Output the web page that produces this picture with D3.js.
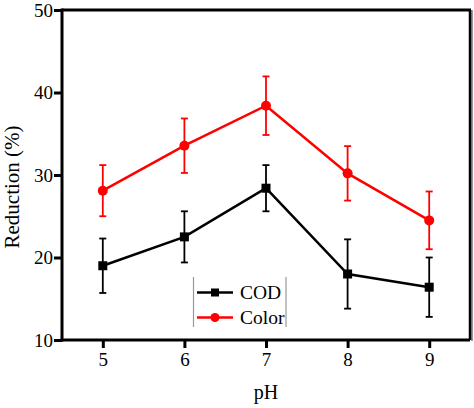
<!DOCTYPE html>
<html>
<head>
<meta charset="utf-8">
<script src="https://cdn.jsdelivr.net/npm/d3@7.9.0/dist/d3.min.js"></script>
<style>
  body { margin: 0; background: #fff; }
  text { font-family: "Liberation Serif", "Times New Roman", serif; }
</style>
</head>
<body>
<svg id="chart" width="474" height="408"></svg>
<script>
const phValues = [5, 6, 7, 8, 9];
const codMean = [19.0, 22.5, 28.4, 18.0, 16.4];
const codErr = [3.3, 3.1, 2.8, 4.2, 3.6];
const colorMean = [28.1, 33.55, 38.4, 30.2, 24.5];
const colorErr = [3.1, 3.3, 3.55, 3.3, 3.5];
const yTicks = [10, 20, 30, 40, 50];

const series = [
  { name: 'COD', mean: codMean, err: codErr, color: '#000000', shape: 'square' },
  { name: 'Color', mean: colorMean, err: colorErr, color: '#ff0000', shape: 'circle' }
];

const svg = d3.select('#chart');
const plotLeft = 62, plotRight = 470, plotTop = 10, plotBottom = 340;

const x = d3.scaleLinear().domain([4.5, 9.5]).range([plotLeft, plotRight]);
const y = d3.scaleLinear().domain([10, 50]).range([plotBottom, plotTop]);

// frame (top and right)
svg.append('line').attr('x1', plotLeft).attr('x2', plotRight + 1).attr('y1', plotTop).attr('y2', plotTop)
  .attr('stroke', '#000').attr('stroke-width', 3);
svg.append('line').attr('x1', plotRight + 2).attr('x2', plotRight + 2).attr('y1', plotTop).attr('y2', plotBottom + 1)
  .attr('stroke', '#999').attr('stroke-width', 2);
svg.append('line').attr('x1', plotRight).attr('x2', plotRight).attr('y1', plotTop).attr('y2', plotBottom)
  .attr('stroke', '#000').attr('stroke-width', 2.5);

// axes
const xAxis = svg.append('g').attr('transform', `translate(0,${plotBottom})`)
  .call(d3.axisBottom(x).tickValues(phValues).tickFormat(d3.format('d'))
    .tickSize(8).tickSizeOuter(0).tickPadding(5));
const yAxis = svg.append('g').attr('transform', `translate(${plotLeft},0)`)
  .call(d3.axisLeft(y).tickValues(yTicks).tickFormat(d3.format('d'))
    .tickSize(8).tickSizeOuter(0).tickPadding(1));

[xAxis, yAxis].forEach(g => {
  g.select('.domain').attr('stroke', '#000').attr('stroke-width', 3);
  g.selectAll('.tick line').attr('stroke', '#000').attr('stroke-width', 3);
  g.selectAll('.tick text').attr('font-size', 19).attr('fill', '#000');
});
yAxis.select('.domain').attr('d', `M0,${plotBottom + 1.5}V${plotTop - 1.5}`);
xAxis.select('.domain').attr('d', `M${plotLeft - 1.5},0H${plotRight}`);

// axis titles
svg.append('text').attr('x', 266).attr('y', 399).attr('text-anchor', 'middle')
  .attr('font-size', 20).text('pH');
svg.append('text').attr('transform', 'translate(19,187) rotate(-90)')
  .attr('text-anchor', 'middle').attr('font-size', 21).text('Reduction (%)');

// series
const line = d3.line();
series.forEach(s => {
  const pts = phValues.map((p, i) => [x(p), y(s.mean[i])]);
  const g = svg.append('g');
  g.append('path').attr('d', line(pts)).attr('fill', 'none')
    .attr('stroke', s.color).attr('stroke-width', 2.5);

  phValues.forEach((p, i) => {
    const cx = x(p);
    const y1 = y(s.mean[i] + s.err[i]);
    const y0 = y(s.mean[i] - s.err[i]);
    g.append('line').attr('x1', cx).attr('x2', cx).attr('y1', y1).attr('y2', y0)
      .attr('stroke', s.color).attr('stroke-width', 1.8);
    [y1, y0].forEach(cy => {
      g.append('line').attr('x1', cx - 3.5).attr('x2', cx + 3.5).attr('y1', cy).attr('y2', cy)
        .attr('stroke', s.color).attr('stroke-width', 1.8);
    });
    if (s.shape === 'square') {
      g.append('rect').attr('x', cx - 4.5).attr('y', y(s.mean[i]) - 4.5)
        .attr('width', 9).attr('height', 9).attr('fill', s.color);
    } else {
      g.append('circle').attr('cx', cx).attr('cy', y(s.mean[i])).attr('r', 5)
        .attr('fill', s.color);
    }
  });
});

// legend
const legend = svg.append('g');
legend.append('line').attr('x1', 193.5).attr('x2', 193.5).attr('y1', 277).attr('y2', 327)
  .attr('stroke', '#999').attr('stroke-width', 1.2);
legend.append('line').attr('x1', 286).attr('x2', 286).attr('y1', 277).attr('y2', 327)
  .attr('stroke', '#999').attr('stroke-width', 1.2);
series.forEach((s, i) => {
  const ly = 292.5 + i * 25;
  legend.append('line').attr('x1', 197).attr('x2', 233).attr('y1', ly).attr('y2', ly)
    .attr('stroke', s.color).attr('stroke-width', 2.5);
  if (s.shape === 'square') {
    legend.append('rect').attr('x', 215 - 4).attr('y', ly - 4).attr('width', 8).attr('height', 8)
      .attr('fill', s.color);
  } else {
    legend.append('circle').attr('cx', 215).attr('cy', ly).attr('r', 4.5).attr('fill', s.color);
  }
  legend.append('text').attr('x', 240).attr('y', ly + 6.5).attr('font-size', 19.5).text(s.name);
});
</script>
</body>
</html>
